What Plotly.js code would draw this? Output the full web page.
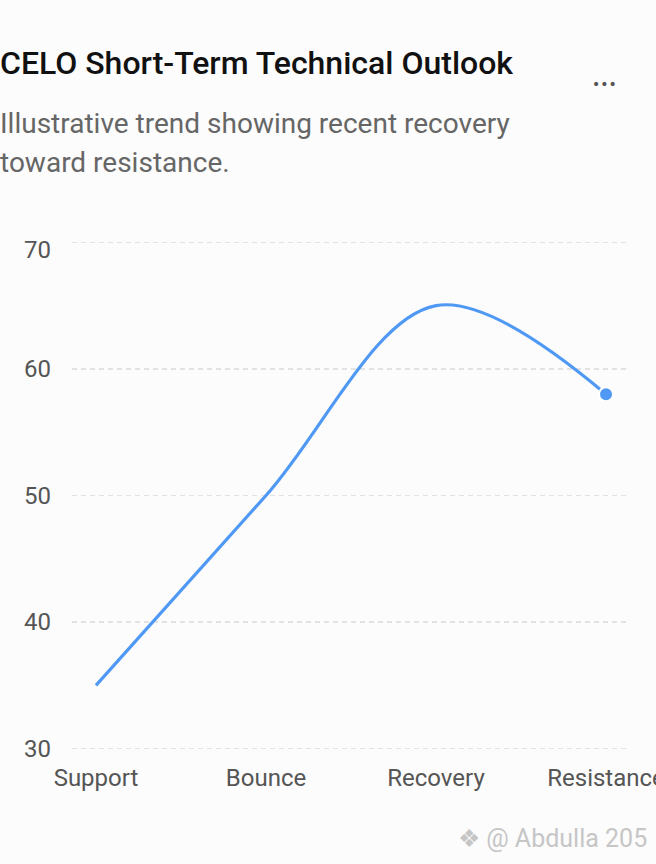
<!DOCTYPE html>
<html>
<head>
<meta charset="utf-8">
<script src="https://cdn.plot.ly/plotly-3.0.1.min.js"></script>
<style>
  html, body { margin: 0; padding: 0; background: #fcfcfc; }
  #chart { width: 656px; height: 864px; }
</style>
</head>
<body>
<div id="chart"></div>
<script>
const categories = ["Support", "Bounce", "Recovery", "Resistance"];
const values = [35, 50, 65, 58];
const yTicks = [30, 40, 50, 60, 70];

const W = 656, H = 864;
const M = { l: 72, r: 26, t: 236, b: 109 };
const pw = W - M.l - M.r, ph = H - M.t - M.b;
const px = x => (x - M.l) / pw;
const py = y => (H - M.b - y) / ph;

const lineColor = "#4f99f5";
const last = categories.length - 1;
const topTick = yTicks.length - 1;

const traces = [
  {
    x: categories, y: values, type: "scatter", mode: "lines",
    line: { color: lineColor, width: 3.2, shape: "spline", smoothing: 1 },
    hoverinfo: "skip", showlegend: false
  },
  {
    x: [categories[last]], y: [values[last]], type: "scatter", mode: "markers",
    marker: { color: lineColor, size: 14, line: { color: "#ffffff", width: 2 } },
    hoverinfo: "skip", showlegend: false
  }
];

const layout = {
  width: W, height: H,
  margin: M,
  paper_bgcolor: "#fcfcfc",
  plot_bgcolor: "#fcfcfc",
  font: { family: "Roboto, 'Open Sans', sans-serif", color: "#555" },
  title: {
    text: "CELO Short-Term Technical Outlook",
    x: 0, xref: "container", xanchor: "left",
    y: 1 - 63 / H, yref: "container", yanchor: "middle",
    font: { family: "Roboto", size: 32, color: "#111", weight: 500 }
  },
  xaxis: {
    type: "category",
    range: [-0.141, 3.141],
    showgrid: false, zeroline: false, showline: false,
    ticks: "", ticklabelstandoff: 6,
    tickfont: { size: 24, color: "#555" },
    fixedrange: true
  },
  yaxis: {
    range: [29.5, 70.5],
    tickvals: yTicks,
    ticktext: yTicks.map((v, i) => i === topTick ? "" : String(v)),
    showgrid: true, gridcolor: "#e2e2e2", griddash: "5px,4px", gridwidth: 1.5,
    zeroline: false, showline: false,
    ticks: "", ticklabelstandoff: 20,
    tickfont: { size: 24, color: "#555" },
    fixedrange: true
  },
  annotations: [
    {
      text: String(yTicks[topTick]),
      xref: "paper", yref: "y", x: 0, y: yTicks[topTick],
      xanchor: "right", yanchor: "middle", xshift: -19, yshift: -8,
      showarrow: false, font: { size: 24, color: "#555" }
    },
    {
      text: "Illustrative trend showing recent recovery",
      xref: "paper", yref: "paper", x: px(-2), y: py(123),
      xanchor: "left", yanchor: "middle", showarrow: false,
      font: { size: 28, color: "#666" }
    },
    {
      text: "toward resistance.",
      xref: "paper", yref: "paper", x: px(-2), y: py(162),
      xanchor: "left", yanchor: "middle", showarrow: false,
      font: { size: 28, color: "#666" }
    },
    {
      text: "•••",
      xref: "paper", yref: "paper", x: px(604), y: py(84),
      xanchor: "center", yanchor: "middle", showarrow: false,
      font: { family: "DejaVu Sans", size: 14, color: "#555" }
    },
    {
      text: "❖ @ Abdulla 205",
      xref: "paper", yref: "paper", x: px(649), y: py(838),
      xanchor: "right", yanchor: "middle", showarrow: false,
      font: { size: 25, color: "#c6c6c6" }
    }
  ]
};

Plotly.newPlot("chart", traces, layout, { displayModeBar: false, staticPlot: true });
</script>
</body>
</html>
